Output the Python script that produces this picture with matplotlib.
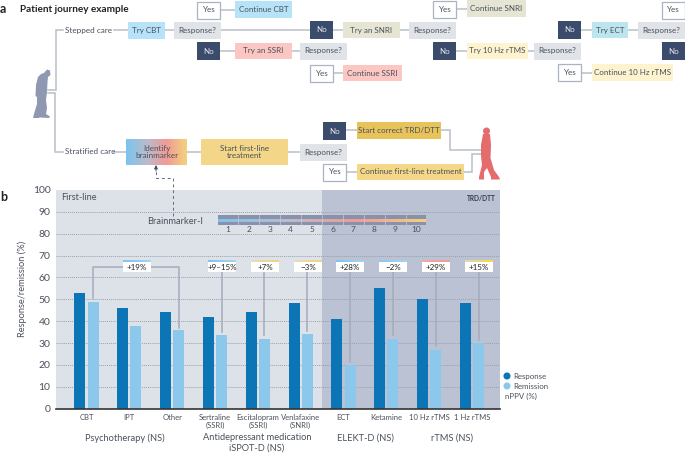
import numpy as np
import matplotlib
matplotlib.use('Agg')
import matplotlib.pyplot as plt
from matplotlib.colors import LinearSegmentedColormap
from matplotlib.patches import Rectangle, Polygon, Circle

plt.rcParams['font.family'] = ['Lato', 'DejaVu Sans']

W, H = 685, 453

# Chart data
treatments = ['CBT', 'IPT', 'Other', 'Sertraline\n(SSRI)', 'Escitalopram\n(SSRI)', 'Venlafaxine\n(SNRI)',
              'ECT', 'Ketamine', '10 Hz rTMS', '1 Hz rTMS']
response = [53, 46, 44, 42, 44, 48.5, 41, 55, 50, 48.5]
remission = [49, 38, 36, 33.5, 32, 34, 20, 32, 27, 30]
y_ticks = [0, 10, 20, 30, 40, 50, 60, 70, 80, 90, 100]
nppv_labels = ['+19%', '+9\u201315%', '+7%', '\u22123%', '+28%', '\u22122%', '+29%', '+15%']
brainmarker_nums = ['1', '2', '3', '4', '5', '6', '7', '8', '9', '10']

GREY = '#b9bec8'
TXT = '#4a515c'
NAVY = '#3b4b6b'
RESP = '#e0e3e8'
BORDER = '#aab2c4'
GRAD = LinearSegmentedColormap.from_list('bm', ['#7cc4ee', '#b9bccd', '#f29a96', '#f4d27c'])

fig = plt.figure(figsize=(W / 100, H / 100), dpi=100)

# bar chart, pixel extent 56-500 / 190-408.7
ax = fig.add_axes([56 / W, (H - 408.7) / H, 444 / W, 218.7 / H])
x = np.arange(len(treatments))
ax.set_xlim(-0.712, 9.654)
ax.set_ylim(0, 100)
ax.axvspan(-0.712, 5.5, color='#dde1e8', lw=0, zorder=0)
ax.axvspan(5.5, 9.654, color='#bbc2d3', lw=0, zorder=0)
ax.set_yticks(y_ticks)
ax.set_yticklabels([str(t) for t in y_ticks], fontsize=7.5, color=TXT)
ax.set_xticks(x)
ax.set_xticklabels(treatments, fontsize=5.5, color=TXT, linespacing=1.05)
ax.tick_params(axis='both', length=0)
ax.tick_params(axis='x', pad=4)
ax.tick_params(axis='y', pad=4)
for s in ['top', 'left', 'right']:
    ax.spines[s].set_visible(False)
ax.spines['bottom'].set_color('#333333')
ax.spines['bottom'].set_linewidth(1.2)
for t in y_ticks[1:-1]:
    ax.axhline(t, color='#9aa0ae', lw=0.7, ls=(0, (1, 1)), zorder=1)
ax.bar(x - 0.155, response, 0.257, color='#0b75b5', zorder=2)
ax.bar(x + 0.155, remission, 0.257, color='#8cc8ec', zorder=2)

# connectors from the nPPV boxes down to the remission bars
con = '#a4abba'
ax.plot([0.155, 0.155, 2.155, 2.155], [remission[0] + 1.5, 64.7, 64.7, remission[2] + 1], color=con, lw=1.1, zorder=3)
for i in range(3, 10):
    ax.plot([i + 0.155, i + 0.155], [remission[i] + 1.5, 64], color=con, lw=1.1, zorder=3)

# overlay in pixel coordinates for the flow diagram
ov = fig.add_axes([0, 0, 1, 1], facecolor='none')
ov.axis('off')


def box(x0, y0, x1, y1, label=None, fc=RESP, ec='none', color=TXT, fs=5.8):
    ov.add_patch(Rectangle((x0, y0), x1 - x0, y1 - y0, fc=fc, ec=ec, lw=0.9, zorder=3))
    if label:
        ov.text((x0 + x1) / 2, (y0 + y1) / 2, label, ha='center', va='center', fontsize=fs, color=color, zorder=4,
                linespacing=1.15)


def yes(x0, y0):
    box(x0, y0, x0 + 23, y0 + 17, 'Yes', fc='white', ec=BORDER)


def no(x0, y0):
    box(x0, y0, x0 + 23, y0 + 18, 'No', fc=NAVY, ec='none', color='#e8eaf0')


def resp(x0, y0):
    box(x0, y0, x0 + 47, y0 + 17, 'Response?')


def line(xs, ys):
    ov.plot(xs, ys, color=GREY, lw=1.1, zorder=2, solid_joinstyle='miter')


# connecting lines
line([63, 56, 56, 48], [30, 30, 89.5, 89.5])
line([63, 55, 55, 48], [152, 152, 92.5, 92.5])
line([114, 128], [30, 30])
line([165, 174], [30, 30])
line([221, 310], [30, 30])
line([220, 235], [10, 10])
line([220, 235], [51, 51])
line([292, 300], [51, 51])
line([333, 343], [30, 30])
line([400, 409], [30, 30])
line([457, 467], [8.5, 8.5])
line([456, 467], [51, 51])
line([528, 534], [51, 51])
line([333, 343], [73, 73])
line([581, 592], [30, 30])
line([628, 638], [30, 30])
line([581, 592], [72.5, 72.5])
line([114, 126], [152, 152])
line([187, 201], [152, 152])
line([288, 300], [152, 152])
line([346, 357], [130, 130])
line([346, 357], [172, 172])
line([441, 450, 450, 481], [130, 130, 150, 150])
line([464, 472, 472, 481], [172, 172, 154, 154])

# stepped care row
ov.text(65.5, 30, 'Stepped care', fontsize=5.9, color=TXT, va='center')
ov.text(65.5, 152, 'Stratified care', fontsize=5.9, color=TXT, va='center')
yes(197.5, 1.5)
box(235, 1, 292, 18, 'Continue CBT', fc='#b7e3f8')
box(128, 21.5, 165, 38.5, 'Try CBT', fc='#b7e3f8')
resp(174, 21.5)
no(310, 21)
box(343, 22, 400, 38, 'Try an SNRI', fc='#e6e5d3')
resp(409, 22)
yes(433.5, 0.5)
box(467, 0, 526, 17, 'Continue SNRI', fc='#e6e5d3')
no(197.5, 42)
box(235, 42.5, 292, 59, 'Try an SSRI', fc='#fcc7c3')
resp(300, 42.5)
yes(310.5, 64.5)
box(343, 65, 402, 81, 'Continue SSRI', fc='#fcc7c3')
no(433.5, 42)
box(467, 42.5, 528, 59, 'Try 10 Hz rTMS', fc='#fdf3cf')
resp(534, 42.5)
no(558.5, 21)
box(592, 22, 628, 38, 'Try ECT', fc='#bde5ef')
resp(638, 22)
yes(662, 1.5)
no(662, 42)
yes(558.5, 64)
box(592, 64, 673, 81, 'Continue 10 Hz rTMS', fc='#fdf3cf')

# stratified row
ov.imshow(np.linspace(0, 1, 128).reshape(1, -1), cmap=GRAD, extent=(126, 187, 165, 139), aspect='auto', zorder=3)
ov.text(156.5, 152, 'Identify\nbrainmarker', ha='center', va='center', fontsize=5.8, color=TXT, zorder=4, linespacing=1.15)
box(201, 139, 288, 165, 'Start first-line\ntreatment', fc='#f3d687')
resp(300, 144)
no(323.5, 122)
box(357, 122, 441, 139, 'Start correct TRD/DTT', fc='#e8c35a')
yes(323.5, 163.5)
box(357, 164, 464, 180, 'Continue first-line treatment', fc='#f4d888')

# patient silhouettes
ov.add_patch(Polygon([(44, 73), (47, 69.5), (50, 70.5), (50.5, 75), (48, 77), (47.5, 82), (47, 92), (46, 100),
                      (47, 108), (46, 114), (50, 116.5), (49, 118), (40, 117.5), (38, 118), (33, 118), (34, 114),
                      (37, 104), (37, 97), (35.5, 96), (36, 85), (38, 77), (41, 74)], fc='#8e98b0', ec='none', zorder=3))
ov.add_patch(Circle((486.5, 131), 3.5, fc='#e46c6c', ec='none', zorder=3))
ov.add_patch(Polygon([(483, 134), (490, 134), (491, 145), (490.5, 158), (494, 170), (499, 177), (500, 179.5),
                      (491, 179.5), (491, 177), (487, 168), (484, 172), (484, 179.5), (479, 179.5), (479, 177),
                      (482, 165), (481, 156), (481, 145)], fc='#e46c6c', ec='none', zorder=3))

# dashed arrow from the brainmarker strip
ov.plot([173, 173, 156, 156], [216, 178, 178, 169], color='#5d6a85', lw=0.7, ls=(0, (3, 3)), zorder=3)
ov.annotate('', xy=(156, 165), xytext=(156, 171), zorder=3,
            arrowprops=dict(arrowstyle='-|>', color=NAVY, lw=0.7, mutation_scale=5, shrinkA=0, shrinkB=0))

# panel labels
ov.text(0, 9, 'a', fontsize=9, fontweight='bold', color='#222222', va='center')
ov.text(20, 9, 'Patient journey example', fontsize=7.2, fontweight='bold', color='#222222', va='center')
ov.text(0, 197, 'b', fontsize=9, fontweight='bold', color='#222222', va='center')
ov.text(61, 198, 'First-line', fontsize=6.6, color=TXT, va='center')
ov.text(496, 198.5, 'TRD/DTT', fontsize=4.8, fontweight='bold', color='#333a45', va='center', ha='right')
ov.text(22, 288.5, 'Response/remission (%)', fontsize=6.7, color=TXT, rotation=90, ha='center', va='center')

# Brainmarker-I strip
ov.text(147, 222, 'Brainmarker-I', fontsize=6.7, color=TXT, va='center')
ov.add_patch(Rectangle((218, 215), 208, 10, fc='#8a92ab', ec='none', zorder=3))
ov.imshow(np.linspace(0, 1, 256).reshape(1, -1), cmap=GRAD, extent=(218, 426, 222, 219), aspect='auto', zorder=4)
for i, n in enumerate(brainmarker_nums):
    cx = 228 + i * 20.9
    ov.text(cx, 229.5, n, fontsize=6, color=TXT, ha='center', va='center')
    if i:
        ov.plot([cx - 10.4, cx - 10.4], [215, 225], color='#c6cbd8', lw=0.5, zorder=5)

# nPPV boxes with the coloured bar on top
box_left = [122.7, 208, 251, 294, 336, 379.5, 422, 465]
tops = [('#7cc4ee', '#a5d4f0'), ('#7cc4ee', '#a5d4f0'), ('#e8dcc0', '#f4d27c'), ('#e8dcc0', '#f4d27c'),
        ('#7cc4ee', '#a5d4f0'), ('#8cc8ec', '#a8d2ec'), ('#f2aaa4', '#f29a96'), ('#d8d8c8', '#ffd930')]
for left, lab, top in zip(box_left, nppv_labels, tops):
    box(left, 262, left + 28, 272, lab, fc='white', color='#222222', fs=5.8)
    cm = LinearSegmentedColormap.from_list('t', list(top))
    ov.imshow(np.linspace(0, 1, 64).reshape(1, -1), cmap=cm, extent=(left, left + 28, 262, 260), aspect='auto', zorder=4)

# group labels
ov.text(125, 438, 'Psychotherapy (NS)', fontsize=6.7, color=TXT, ha='center', va='center')
ov.text(257, 438, 'Antidepressant medication', fontsize=6.7, color=TXT, ha='center', va='center')
ov.text(257, 448, 'iSPOT-D (NS)', fontsize=6.7, color=TXT, ha='center', va='center')
ov.text(365, 438, 'ELEKT-D (NS)', fontsize=6.7, color=TXT, ha='center', va='center')
ov.text(452, 438, 'rTMS (NS)', fontsize=6.7, color=TXT, ha='center', va='center')

# legend
ov.scatter([507, 507], [376, 386], s=26, c=['#0b75b5', '#8cc8ec'], lw=0, zorder=3)
ov.text(513, 376.5, 'Response', fontsize=5.7, color=TXT, va='center')
ov.text(513, 386.5, 'Remission', fontsize=5.7, color=TXT, va='center')
ov.text(505, 396.5, 'nPPV (%)', fontsize=5.7, color=TXT, va='center')

ov.set_xlim(0, W)
ov.set_ylim(H, 0)

fig.savefig('out.png', dpi=100)
